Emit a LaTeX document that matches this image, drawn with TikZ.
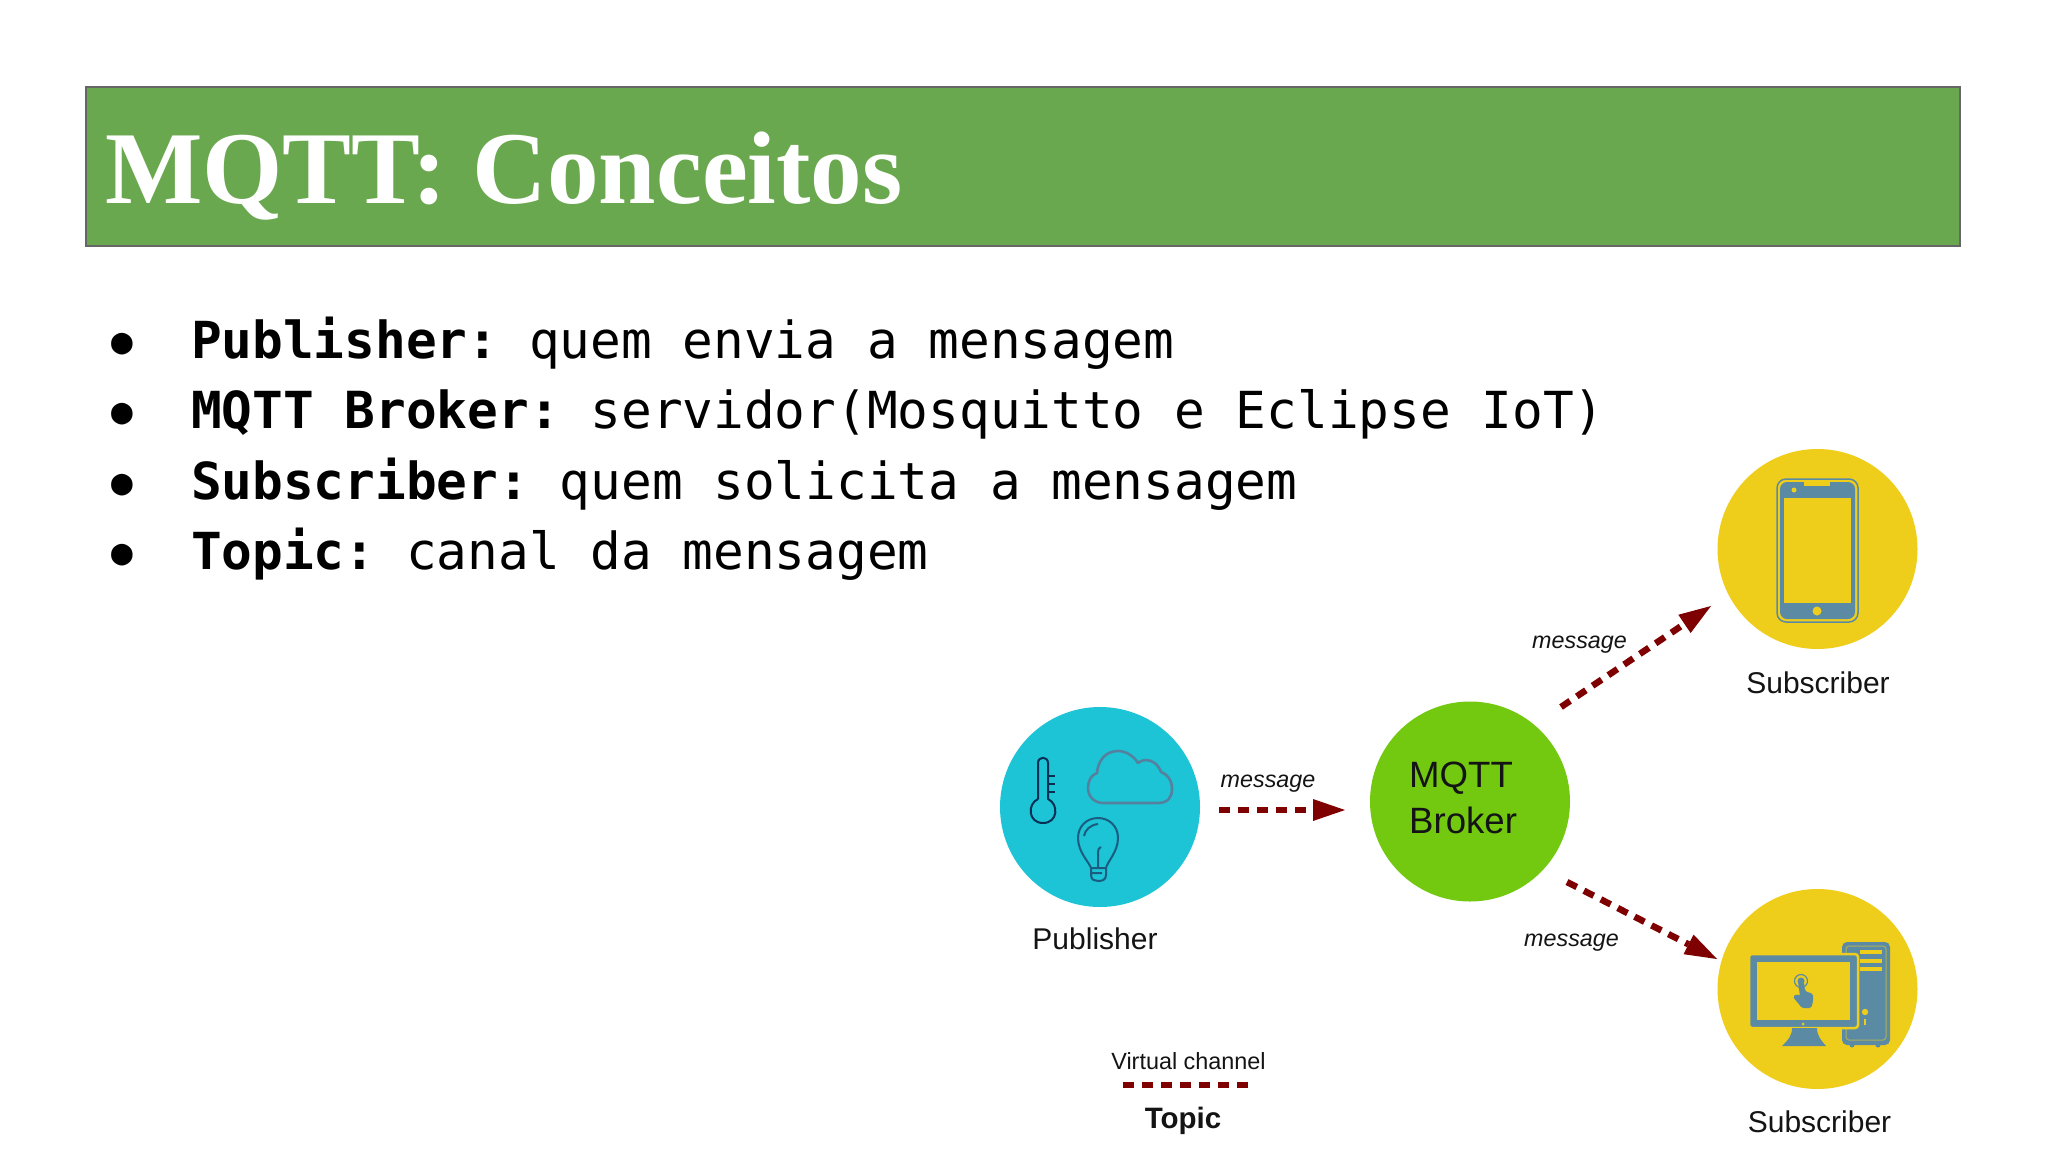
\documentclass[tikz,border=0pt]{standalone}
\usepackage{fontspec}
\usetikzlibrary{arrows.meta}
\setmainfont{Liberation Sans}
\newfontfamily\titlefam{Liberation Serif}
\newfontfamily\listfam{DejaVu Sans Mono}
\definecolor{hdrgreen}{HTML}{6AA84F}
\definecolor{hdrline}{HTML}{666666}
\definecolor{pubcyan}{HTML}{1CC4D6}
\definecolor{brokergreen}{HTML}{72C90F}
\definecolor{subyellow}{HTML}{EFCE1B}
\definecolor{iconblue}{HTML}{5B8AA5}
\definecolor{maroon}{HTML}{7F0000}
\definecolor{thermo}{HTML}{0A2F55}
\definecolor{cloudc}{HTML}{55809E}
\definecolor{bulbc}{HTML}{1B5C80}
\definecolor{labelc}{HTML}{141414}
\tikzset{
  disc/.style={circle,minimum size=200pt,inner sep=0pt,draw=none},
  txt/.style={inner sep=0pt,outer sep=0pt,anchor=base,text=labelc},
  listline/.style={inner sep=0pt,outer sep=0pt,anchor=base west,text=black,font=\frenchspacing\listfam\fontsize{51.05}{60}\selectfont},
  msgline/.style={draw=maroon,line width=6.5pt,dash pattern=on 11pt off 8pt},
  msgarrow/.style={msgline,-{Triangle[length=32pt,width=22pt,fill=maroon,line width=0pt]}},
  msgfont/.style={font=\fontsize{23.3}{28}\selectfont\itshape},
  lblfont/.style={font=\fontsize{30}{34}\selectfont},
  yellowfill/.style={fill=subyellow,draw=none},
  bluefill/.style={fill=iconblue,draw=none}
}
\begin{document}
\begin{tikzpicture}[x=1pt,y=-1pt]
\useasboundingbox (0,0) rectangle (2048,1152);
\fill[white] (0,0) rectangle (2048,1152);
% header
\draw[fill=hdrgreen,draw=hdrline,line width=2pt] (85.5,86.5) rectangle (1959.5,245.5);
\node[inner sep=0pt,outer sep=0pt,anchor=base west,text=white,font=\titlefam\bfseries\fontsize{103.2}{110}\selectfont] (title) at (105,203) {MQTT: Conceitos};
% list
\foreach \nm/\yy in {b1/353,b2/423,b3/494,b4/564}{
  \node[listline,font=\listfam\fontsize{36}{44}\selectfont] (\nm) at (111,\yy) {●};
}
\node[listline] (l1) at (191,358) {{\bfseries Publisher:} quem envia a mensagem};
\node[listline] (l2) at (191,428) {{\bfseries MQTT Broker:} servidor(Mosquitto e Eclipse IoT)};
\node[listline] (l3) at (191,499) {{\bfseries Subscriber:} quem solicita a mensagem};
\node[listline] (l4) at (191,569) {{\bfseries Topic:} canal da mensagem};
% discs
\node[disc,fill=pubcyan] (pub) at (1100,807) {};
\node[disc,fill=brokergreen] (broker) at (1470,801.5) {};
\node[disc,fill=subyellow] (sub1) at (1817.5,549) {};
\node[disc,fill=subyellow] (sub2) at (1817.5,989) {};
% labels
\node[txt,lblfont] (publab) at (1095,949) {Publisher};
\node[txt,lblfont] (sub1lab) at (1818,693) {Subscriber};
\node[txt,lblfont] (sub2lab) at (1819.5,1132) {Subscriber};
\node[inner sep=0pt,anchor=base west,text=labelc,font=\fontsize{36.6}{40}\selectfont] (mqtt) at (1409,787) {MQTT};
\node[inner sep=0pt,anchor=base west,text=labelc,font=\fontsize{36.6}{40}\selectfont] (brk) at (1409,833) {Broker};
\node[txt,msgfont] (m1) at (1268,787) {message};
\node[txt,msgfont] (m2) at (1579.5,648) {message};
\node[txt,msgfont] (m3) at (1571.5,946) {message};
\node[txt,font=\fontsize{23.4}{28}\selectfont] (vc) at (1188.5,1069) {Virtual channel};
\node[txt,font=\fontsize{29.5}{34}\selectfont\bfseries] (topic) at (1183,1128) {Topic};
% arrows
\coordinate (a1s) at (1219,810); \coordinate (a1e) at (1345,810);
\coordinate (a2s) at (1561,707); \coordinate (a2e) at (1711,606);
\coordinate (a3s) at (1567,882); \coordinate (a3e) at (1717,959);
\coordinate (vcs) at (1123,1085); \coordinate (vce) at (1248,1085);
\draw[msgarrow] (a1s) -- (a1e);
\draw[msgarrow] (a2s) -- (a2e);
\draw[msgarrow] (a3s) -- (a3e);
\draw[msgline] (vcs) -- (vce);
% thermometer
\draw[thermo,line width=2pt,line join=round]
  (1038,799) -- (1038,763) .. controls (1038,756) and (1048,756) .. (1048,763) -- (1048,799)
  .. controls (1059,804) and (1058,823) .. (1043,823) .. controls (1028,823) and (1027,804) .. (1038,799);
\draw[thermo,line width=2pt] (1048,776) -- (1055,776) (1048,784) -- (1055,784) (1048,792) -- (1055,792);
% cloud
\draw[cloudc,line width=2.6pt,line join=round]
  (1103,803) -- (1158,803) .. controls (1168,803) and (1172,797) .. (1172,789)
  .. controls (1172,780) and (1167,774) .. (1161,772) .. controls (1158,764) and (1152,760) .. (1146,760)
  .. controls (1143,760) and (1140,761) .. (1138,763) .. controls (1133,755) and (1125,751) .. (1118,751)
  .. controls (1106,751) and (1098,760) .. (1097,773) .. controls (1091,775) and (1088,781) .. (1088,788)
  .. controls (1088,797) and (1095,803) .. (1103,803) -- cycle;
% bulb
\draw[bulbc,line width=2pt,line join=round]
  (1091,868) .. controls (1089,862) and (1078,852) .. (1078,838) .. controls (1078,826) and (1087,818) .. (1098,818)
  .. controls (1109,818) and (1118,826) .. (1118,838) .. controls (1118,852) and (1107,862) .. (1106,868) -- cycle
  (1091,868) -- (1091,875) .. controls (1091,880) and (1095,881) .. (1098,881)
  .. controls (1102,881) and (1106,880) .. (1106,875) -- (1106,868)
  (1091,873) -- (1102,873)
  (1098,867) -- (1098,852) .. controls (1098,849) and (1099,848) .. (1101,847)
  (1084,836) .. controls (1085,830) and (1090,825) .. (1098,824);
% phone
\draw[iconblue,line width=1.5pt,rounded corners=9pt] (1777,479) rectangle (1858,622);
\fill[iconblue,rounded corners=7pt] (1780,482) rectangle (1855,619);
\fill[subyellow] (1784,498) rectangle (1851,603);
\fill[subyellow] (1804,481) rectangle (1830,486);
\fill[subyellow] (1794,490) circle[radius=2.5];
\fill[subyellow] (1817,611) circle[radius=4.5];
% computer tower
\fill[iconblue] (1852,1045) circle[radius=2.5] (1878,1045) circle[radius=2.5];
\fill[iconblue,rounded corners=5pt] (1842,942) rectangle (1890,1045);
\draw[subyellow,opacity=0.55,line width=1pt,rounded corners=3pt] (1846,946) rectangle (1886,1040);
\foreach \by in {952,961,969}{\draw[subyellow,line width=3.2pt] (1860,\by) -- (1882,\by);}
\fill[subyellow] (1865,1012) circle[radius=3.2];
\fill[subyellow] (1864,1019) rectangle (1866,1025);
% monitor
\draw[bluefill,draw=subyellow,line width=2.5pt,rounded corners=3pt] (1749,954) rectangle (1858,1028);
\fill[subyellow] (1757,962) rectangle (1850,1020);
\fill[subyellow] (1803,1024) circle[radius=1.5];
\fill[iconblue] (1792,1028) -- (1817,1028) .. controls (1817,1036) and (1821,1040) .. (1826,1046) -- (1782,1046) .. controls (1788,1040) and (1792,1036) .. (1792,1028) -- cycle;
% hand
\draw[iconblue,line width=1.2pt] (1801,981) circle[radius=6.5];
\fill[iconblue] (1801,981) circle[radius=3.5];
\fill[iconblue,rounded corners=1.5pt] (1798,982) -- (1804,982) -- (1805,991) -- (1813,994) -- (1813,1002) -- (1811,1008) -- (1802,1008) -- (1793,997) -- (1796,994) -- (1800,996) -- cycle;
\end{tikzpicture}
\end{document}
